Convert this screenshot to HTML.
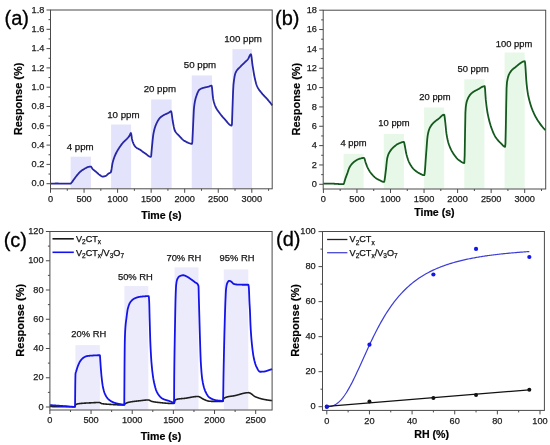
<!DOCTYPE html>
<html><head><meta charset="utf-8"><style>
html,body{margin:0;padding:0;background:#fff;}
body{width:550px;height:445px;overflow:hidden;}
svg{display:block;}
text{font-family:"Liberation Sans",Arial,sans-serif;}
.tk{font-size:9.2px;fill:#1c1c1c;stroke:#1c1c1c;stroke-width:0.25px;}
.bl{font-size:9.4px;fill:#151515;stroke:#151515;stroke-width:0.25px;}
.at{font-size:10.6px;font-weight:bold;fill:#000;stroke:#000;stroke-width:0.2px;}
.ay{font-size:11px;}
.lg{font-size:9.1px;fill:#111;stroke:#111;stroke-width:0.25px;}
.sb{font-size:6.5px;}
.pl{font-size:20px;fill:#000;stroke:#000;stroke-width:0.3px;}
</style></head><body>
<svg width="550" height="445" viewBox="0 0 550 445">
<rect width="550" height="445" fill="#fff"/>
<rect x="70.63" y="156.68" width="20.33" height="31.62" fill="#e3e3fb"/>
<rect x="111.09" y="124.55" width="20" height="63.75" fill="#e3e3fb"/>
<rect x="151.15" y="99.46" width="20.47" height="88.84" fill="#e3e3fb"/>
<rect x="191.75" y="75.43" width="20.26" height="112.87" fill="#e3e3fb"/>
<rect x="232.48" y="49.18" width="19.53" height="139.12" fill="#e3e3fb"/>
<path d="M50.5 183.7 50.87 183.68 51.24 183.66 51.61 183.64 51.98 183.62 52.35 183.61 52.72 183.59 53.09 183.58 53.46 183.57 53.83 183.56 54.2 183.55 54.57 183.54 54.94 183.53 55.31 183.52 55.68 183.52 56.06 183.51 56.43 183.51 56.8 183.51 57.17 183.51 57.54 183.51 57.91 183.51 58.28 183.52 58.65 183.53 59.02 183.54 59.39 183.55 59.76 183.57 60.13 183.58 60.5 183.6 60.87 183.62 61.24 183.63 61.61 183.65 61.98 183.66 62.35 183.67 62.72 183.68 63.09 183.69 63.46 183.7 63.83 183.7 64.2 183.7 64.57 183.7 64.94 183.7 65.31 183.7 65.68 183.7 66.05 183.7 66.42 183.7 66.79 183.7 67.17 183.7 67.54 183.7 67.91 183.7 68.28 183.7 68.65 183.7 69.02 183.7 69.39 183.7 69.76 183.7 70.13 183.7 70.5 183.7 70.87 183.47 71.24 182.98 71.61 182.53 71.98 182.08 72.35 181.61 72.72 181.11 73.09 180.59 73.46 180.06 73.83 179.53 74.2 179 74.57 178.47 74.94 177.95 75.31 177.44 75.68 176.95 76.05 176.49 76.42 176.04 76.79 175.58 77.16 175.13 77.53 174.68 77.91 174.24 78.28 173.8 78.65 173.38 79.02 172.97 79.39 172.57 79.76 172.2 80.13 171.84 80.5 171.51 80.87 171.21 81.24 170.92 81.61 170.64 81.98 170.37 82.35 170.12 82.72 169.87 83.09 169.64 83.46 169.41 83.83 169.19 84.2 168.97 84.57 168.76 84.94 168.55 85.31 168.34 85.68 168.14 86.05 167.92 86.42 167.72 86.79 167.52 87.16 167.34 87.53 167.19 87.9 167.07 88.27 166.97 88.64 166.87 89.02 166.77 89.39 166.69 89.76 166.61 90.13 166.56 90.5 166.53 90.87 166.54 91.24 166.84 91.61 167.39 91.98 168.05 92.35 168.65 92.72 169.09 93.09 169.44 93.46 169.77 93.83 170.07 94.2 170.36 94.57 170.65 94.94 170.93 95.31 171.23 95.68 171.54 96.05 171.86 96.42 172.18 96.79 172.51 97.16 172.84 97.53 173.16 97.9 173.48 98.27 173.79 98.64 174.1 99.01 174.39 99.38 174.66 99.75 174.92 100.13 175.2 100.5 175.49 100.87 175.78 101.24 176.04 101.61 176.27 101.98 176.44 102.35 176.54 102.72 176.56 103.09 176.54 103.46 176.5 103.83 176.44 104.2 176.36 104.57 176.27 104.94 176.17 105.31 176.07 105.68 175.95 106.05 175.76 106.42 175.5 106.79 175.18 107.16 174.82 107.53 174.46 107.9 174.1 108.27 173.77 108.64 173.5 109.01 173.29 109.38 173.12 109.75 172.96 110.12 172.77 110.49 172.51 110.87 172.15 111.24 171.09 111.61 168.97 111.98 166.4 112.35 164.03 112.72 162.37 113.09 161 113.46 159.75 113.83 158.61 114.2 157.55 114.57 156.57 114.94 155.66 115.31 154.8 115.68 154 116.05 153.24 116.42 152.51 116.79 151.83 117.16 151.17 117.53 150.53 117.9 149.91 118.27 149.31 118.64 148.71 119.01 148.13 119.38 147.56 119.75 147 120.12 146.46 120.49 145.93 120.86 145.41 121.23 144.9 121.6 144.41 121.98 143.94 122.35 143.47 122.72 143.03 123.09 142.59 123.46 142.17 123.83 141.78 124.2 141.42 124.57 141.06 124.94 140.72 125.31 140.38 125.68 140.04 126.05 139.7 126.42 139.34 126.79 138.97 127.16 138.58 127.53 138.17 127.9 137.76 128.27 137.33 128.64 136.89 129.01 136.41 129.38 135.9 129.75 135.32 130.12 134.43 130.49 133.5 130.86 133.04 131.23 133.97 131.6 136.3 131.97 138.89 132.34 140.62 132.72 141.71 133.09 142.7 133.46 143.59 133.83 144.38 134.2 145.08 134.57 145.69 134.94 146.21 135.31 146.64 135.68 147 136.05 147.33 136.42 147.63 136.79 147.9 137.16 148.14 137.53 148.37 137.9 148.58 138.27 148.78 138.64 148.98 139.01 149.18 139.38 149.38 139.75 149.6 140.12 149.83 140.49 150.08 140.86 150.34 141.23 150.6 141.6 150.87 141.97 151.14 142.34 151.42 142.71 151.7 143.08 151.97 143.45 152.25 143.83 152.52 144.2 152.79 144.57 153.05 144.94 153.3 145.31 153.55 145.68 153.8 146.05 154.06 146.42 154.33 146.79 154.61 147.16 154.9 147.53 155.19 147.9 155.48 148.27 155.75 148.64 156 149.01 156.23 149.38 156.44 149.75 156.61 150.12 156.74 150.49 156.83 150.86 156.87 151.23 155.41 151.6 150.95 151.97 146.81 152.34 143.13 152.71 139.45 153.08 136.17 153.45 133.66 153.82 131.86 154.19 130.27 154.57 128.84 154.94 127.57 155.31 126.43 155.68 125.41 156.05 124.49 156.42 123.65 156.79 122.87 157.16 122.13 157.53 121.44 157.9 120.78 158.27 120.16 158.64 119.58 159.01 119.05 159.38 118.55 159.75 118.1 160.12 117.69 160.49 117.32 160.86 116.99 161.23 116.69 161.6 116.41 161.97 116.16 162.34 115.92 162.71 115.69 163.08 115.48 163.45 115.27 163.82 115.07 164.19 114.88 164.56 114.68 164.93 114.49 165.3 114.3 165.68 114.13 166.05 113.97 166.42 113.81 166.79 113.65 167.16 113.49 167.53 113.33 167.9 113.16 168.27 112.98 168.64 112.79 169.01 112.55 169.38 112.25 169.75 111.94 170.12 111.64 170.49 111.4 170.86 111.25 171.23 111.39 171.6 112.96 171.97 115.57 172.34 118.51 172.71 121.02 173.08 123 173.45 125.01 173.82 126.93 174.19 128.61 174.56 129.92 174.93 130.77 175.3 131.45 175.67 132.04 176.04 132.56 176.41 133.02 176.79 133.44 177.16 133.82 177.53 134.18 177.9 134.54 178.27 134.9 178.64 135.28 179.01 135.69 179.38 136.1 179.75 136.51 180.12 136.92 180.49 137.33 180.86 137.73 181.23 138.12 181.6 138.5 181.97 138.87 182.34 139.22 182.71 139.55 183.08 139.87 183.45 140.16 183.82 140.42 184.19 140.66 184.56 140.9 184.93 141.13 185.3 141.35 185.67 141.56 186.04 141.77 186.41 141.97 186.78 142.16 187.15 142.34 187.53 142.52 187.9 142.68 188.27 142.84 188.64 142.99 189.01 143.13 189.38 143.26 189.75 143.38 190.12 143.49 190.49 143.61 190.86 143.73 191.23 143.83 191.6 143.9 191.97 143.94 192.34 141.89 192.71 134.31 193.08 125.94 193.45 117.87 193.82 110.14 194.19 106.12 194.56 103.51 194.93 101.4 195.3 99.69 195.67 98.28 196.04 97.07 196.41 95.96 196.78 94.9 197.15 93.89 197.52 92.95 197.89 92.09 198.26 91.32 198.64 90.66 199.01 90.11 199.38 89.7 199.75 89.41 200.12 89.18 200.49 88.97 200.86 88.78 201.23 88.61 201.6 88.46 201.97 88.33 202.34 88.2 202.71 88.09 203.08 87.98 203.45 87.87 203.82 87.76 204.19 87.65 204.56 87.55 204.93 87.45 205.3 87.37 205.67 87.28 206.04 87.2 206.41 87.12 206.78 87.04 207.15 86.97 207.52 86.88 207.89 86.8 208.26 86.71 208.63 86.61 209 86.49 209.38 86.34 209.75 86.18 210.12 86.03 210.49 85.88 210.86 85.77 211.23 85.69 211.6 85.66 211.97 87.24 212.34 91.05 212.71 95.37 213.08 98.47 213.45 100.22 213.82 101.76 214.19 103.09 214.56 104.26 214.93 105.29 215.3 106.2 215.67 107.02 216.04 107.77 216.41 108.46 216.78 109.09 217.15 109.67 217.52 110.22 217.89 110.75 218.26 111.27 218.63 111.78 219 112.31 219.37 112.82 219.74 113.32 220.11 113.81 220.49 114.29 220.86 114.76 221.23 115.22 221.6 115.67 221.97 116.11 222.34 116.55 222.71 116.97 223.08 117.39 223.45 117.8 223.82 118.21 224.19 118.6 224.56 119 224.93 119.4 225.3 119.83 225.67 120.27 226.04 120.72 226.41 121.17 226.78 121.63 227.15 122.08 227.52 122.52 227.89 122.95 228.26 123.36 228.63 123.75 229 124.12 229.37 124.46 229.74 124.76 230.11 125.02 230.48 125.24 230.85 125.41 231.23 125.53 231.6 125.6 231.97 123.96 232.34 112.83 232.71 102.07 233.08 91.63 233.45 84.94 233.82 81.56 234.19 78.79 234.56 76.56 234.93 74.82 235.3 73.5 235.67 72.54 236.04 71.78 236.41 71.11 236.78 70.52 237.15 70 237.52 69.55 237.89 69.13 238.26 68.76 238.63 68.4 239 68.05 239.37 67.7 239.74 67.34 240.11 66.95 240.48 66.54 240.85 66.15 241.22 65.77 241.59 65.41 241.96 65.04 242.34 64.69 242.71 64.34 243.08 63.99 243.45 63.63 243.82 63.28 244.19 62.92 244.56 62.56 244.93 62.2 245.3 61.85 245.67 61.5 246.04 61.16 246.41 60.81 246.78 60.45 247.15 60.07 247.52 59.66 247.89 59.22 248.26 58.7 248.63 58 249 57.2 249.37 56.37 249.74 55.58 250.11 54.91 250.48 54.43 250.85 54.2 251.22 54.93 251.59 57.39 251.96 60.69 252.33 63.86 252.7 66.29 253.08 68.63 253.45 70.93 253.82 73.14 254.19 75.22 254.56 77.11 254.93 78.79 255.3 80.36 255.67 81.85 256.04 83.23 256.41 84.46 256.78 85.52 257.15 86.39 257.52 87.15 257.89 87.85 258.26 88.49 258.63 89.09 259 89.64 259.37 90.17 259.74 90.66 260.11 91.13 260.48 91.59 260.85 92.05 261.22 92.51 261.59 92.97 261.96 93.43 262.33 93.87 262.7 94.3 263.07 94.71 263.44 95.11 263.81 95.5 264.19 95.88 264.56 96.27 264.93 96.65 265.3 97.03 265.67 97.41 266.04 97.8 266.41 98.2 266.78 98.61 267.15 99.03 267.52 99.46 267.89 99.89 268.26 100.33 268.63 100.77 269 101.21 269.37 101.66 269.74 102.1 270.11 102.56 270.48 103.01 270.85 103.47 271.22 103.94 271.59 104.4 271.96 104.87 272.33 105.34" fill="none" stroke="#2626a6" stroke-width="1.8" stroke-linejoin="round"/>
<rect x="50.5" y="10" width="221.7" height="178.8" fill="none" stroke="#4a4a4a" stroke-width="1"/>
<path d="M50.5 188.8v4M84.05 188.8v4M117.6 188.8v4M151.15 188.8v4M184.7 188.8v4M218.25 188.8v4M251.8 188.8v4M67.28 188.8v2M100.83 188.8v2M134.38 188.8v2M167.93 188.8v2M201.48 188.8v2M235.03 188.8v2M268.58 188.8v2M50.5 183.7h-4M50.5 164.4h-4M50.5 145.1h-4M50.5 125.8h-4M50.5 106.5h-4M50.5 87.2h-4M50.5 67.9h-4M50.5 48.6h-4M50.5 29.3h-4M50.5 10h-4M50.5 174.05h-2M50.5 154.75h-2M50.5 135.45h-2M50.5 116.15h-2M50.5 96.85h-2M50.5 77.55h-2M50.5 58.25h-2M50.5 38.95h-2M50.5 19.65h-2" stroke="#4a4a4a" stroke-width="1" fill="none"/>
<text x="50.5" y="202.2" text-anchor="middle" class="tk">0</text>
<text x="84.05" y="202.2" text-anchor="middle" class="tk">500</text>
<text x="117.6" y="202.2" text-anchor="middle" class="tk">1000</text>
<text x="151.15" y="202.2" text-anchor="middle" class="tk">1500</text>
<text x="184.7" y="202.2" text-anchor="middle" class="tk">2000</text>
<text x="218.25" y="202.2" text-anchor="middle" class="tk">2500</text>
<text x="251.8" y="202.2" text-anchor="middle" class="tk">3000</text>
<text x="44.3" y="186.4" text-anchor="end" class="tk">0.0</text>
<text x="44.3" y="167.1" text-anchor="end" class="tk">0.2</text>
<text x="44.3" y="147.8" text-anchor="end" class="tk">0.4</text>
<text x="44.3" y="128.5" text-anchor="end" class="tk">0.6</text>
<text x="44.3" y="109.2" text-anchor="end" class="tk">0.8</text>
<text x="44.3" y="89.9" text-anchor="end" class="tk">1.0</text>
<text x="44.3" y="70.6" text-anchor="end" class="tk">1.2</text>
<text x="44.3" y="51.3" text-anchor="end" class="tk">1.4</text>
<text x="44.3" y="32" text-anchor="end" class="tk">1.6</text>
<text x="44.3" y="12.7" text-anchor="end" class="tk">1.8</text>
<text x="161.35" y="218.5" text-anchor="middle" class="at">Time (s)</text>
<text transform="translate(22.4 98.9) rotate(-90)" x="0" y="0" text-anchor="middle" class="at ay">Response (%)</text>
<text x="80.2" y="149.5" text-anchor="middle" class="bl" style="font-size:9.7px">4 ppm</text>
<text x="123.4" y="118.2" text-anchor="middle" class="bl" style="font-size:9.7px">10 ppm</text>
<text x="159.8" y="91.7" text-anchor="middle" class="bl" style="font-size:9.7px">20 ppm</text>
<text x="200" y="68.4" text-anchor="middle" class="bl" style="font-size:9.7px">50 ppm</text>
<text x="243" y="41.8" text-anchor="middle" class="bl" style="font-size:9.7px">100 ppm</text>
<rect x="343.53" y="153.83" width="20.13" height="34.67" fill="#e8f8e8"/>
<rect x="383.79" y="134.01" width="20.13" height="54.49" fill="#e8f8e8"/>
<rect x="424.05" y="107.5" width="20.13" height="81" fill="#e8f8e8"/>
<rect x="464.31" y="79.17" width="20.13" height="109.33" fill="#e8f8e8"/>
<rect x="504.57" y="52.47" width="20.13" height="136.03" fill="#e8f8e8"/>
<path d="M323.4 183.82 323.77 183.74 324.14 183.67 324.51 183.61 324.88 183.56 325.25 183.53 325.62 183.53 326 183.53 326.37 183.53 326.74 183.53 327.11 183.53 327.48 183.53 327.85 183.53 328.22 183.53 328.59 183.53 328.96 183.53 329.33 183.53 329.7 183.53 330.07 183.53 330.44 183.53 330.82 183.53 331.19 183.55 331.56 183.56 331.93 183.58 332.3 183.6 332.67 183.62 333.04 183.65 333.41 183.67 333.78 183.7 334.15 183.73 334.52 183.76 334.89 183.79 335.27 183.81 335.64 183.84 336.01 183.87 336.38 183.89 336.75 183.91 337.12 183.93 337.49 183.95 337.86 183.97 338.23 183.99 338.6 184.01 338.97 184.03 339.34 184.06 339.71 184.08 340.09 184.1 340.46 184.12 340.83 184.14 341.2 184.15 341.57 184.17 341.94 184.18 342.31 184.19 342.68 184.2 343.05 184.2 343.42 184.2 343.79 183.8 344.16 182.84 344.53 181.56 344.91 180.17 345.28 178.89 345.65 177.84 346.02 176.84 346.39 175.85 346.76 174.87 347.13 173.87 347.5 172.86 347.87 171.77 348.24 170.64 348.61 169.53 348.98 168.52 349.36 167.69 349.73 167 350.1 166.37 350.47 165.79 350.84 165.25 351.21 164.76 351.58 164.3 351.95 163.88 352.32 163.48 352.69 163.1 353.06 162.74 353.43 162.39 353.8 162.06 354.18 161.74 354.55 161.44 354.92 161.16 355.29 160.89 355.66 160.65 356.03 160.42 356.4 160.21 356.77 160 357.14 159.81 357.51 159.62 357.88 159.44 358.25 159.27 358.62 159.11 359 158.97 359.37 158.83 359.74 158.71 360.11 158.61 360.48 158.51 360.85 158.42 361.22 158.32 361.59 158.23 361.96 158.15 362.33 158.07 362.7 158.01 363.07 157.95 363.44 157.92 363.82 157.9 364.19 158.02 364.56 158.82 364.93 160.09 365.3 161.46 365.67 162.61 366.04 163.64 366.41 164.67 366.78 165.68 367.15 166.62 367.52 167.47 367.89 168.21 368.27 168.92 368.64 169.58 369.01 170.22 369.38 170.82 369.75 171.39 370.12 171.93 370.49 172.44 370.86 172.94 371.23 173.41 371.6 173.86 371.97 174.31 372.34 174.74 372.71 175.16 373.09 175.57 373.46 175.95 373.83 176.33 374.2 176.68 374.57 177.02 374.94 177.34 375.31 177.64 375.68 177.92 376.05 178.19 376.42 178.44 376.79 178.69 377.16 178.92 377.53 179.14 377.91 179.36 378.28 179.56 378.65 179.76 379.02 179.95 379.39 180.13 379.76 180.31 380.13 180.49 380.5 180.65 380.87 180.83 381.24 181.02 381.61 181.21 381.98 181.39 382.36 181.57 382.73 181.72 383.1 181.84 383.47 181.93 383.84 181.97 384.21 181.7 384.58 180.13 384.95 177.61 385.32 174.6 385.69 171.59 386.06 168.59 386.43 164.9 386.8 161.26 387.18 158.5 387.55 156.95 387.92 155.7 388.29 154.65 388.66 153.77 389.03 153.02 389.4 152.35 389.77 151.73 390.14 151.15 390.51 150.61 390.88 150.1 391.25 149.62 391.62 149.17 392 148.74 392.37 148.34 392.74 147.96 393.11 147.6 393.48 147.26 393.85 146.92 394.22 146.6 394.59 146.29 394.96 145.99 395.33 145.69 395.7 145.4 396.07 145.12 396.44 144.86 396.82 144.6 397.19 144.36 397.56 144.13 397.93 143.92 398.3 143.72 398.67 143.54 399.04 143.38 399.41 143.22 399.78 143.07 400.15 142.91 400.52 142.76 400.89 142.61 401.27 142.47 401.64 142.34 402.01 142.23 402.38 142.13 402.75 142.05 403.12 141.99 403.49 141.95 403.86 141.94 404.23 142.78 404.6 144.61 404.97 146.51 405.34 148.54 405.71 150.77 406.09 152.82 406.46 154.38 406.83 155.76 407.2 157.05 407.57 158.23 407.94 159.33 408.31 160.33 408.68 161.25 409.05 162.09 409.42 162.85 409.79 163.57 410.16 164.26 410.53 164.91 410.91 165.52 411.28 166.11 411.65 166.66 412.02 167.17 412.39 167.66 412.76 168.12 413.13 168.54 413.5 168.94 413.87 169.31 414.24 169.66 414.61 170 414.98 170.33 415.36 170.65 415.73 170.95 416.1 171.24 416.47 171.52 416.84 171.79 417.21 172.04 417.58 172.28 417.95 172.52 418.32 172.74 418.69 172.95 419.06 173.15 419.43 173.34 419.8 173.53 420.18 173.73 420.55 173.92 420.92 174.12 421.29 174.31 421.66 174.49 422.03 174.66 422.4 174.81 422.77 174.95 423.14 175.05 423.51 175.14 423.88 175.19 424.25 175.21 424.62 173.72 425 169.93 425.37 164.78 425.74 159.22 426.11 154.19 426.48 149.39 426.85 144.15 427.22 139.39 427.59 136.04 427.96 133.96 428.33 132.23 428.7 130.81 429.07 129.66 429.44 128.72 429.82 127.91 430.19 127.18 430.56 126.53 430.93 125.93 431.3 125.39 431.67 124.89 432.04 124.43 432.41 123.99 432.78 123.58 433.15 123.18 433.52 122.8 433.89 122.44 434.27 122.1 434.64 121.78 435.01 121.47 435.38 121.17 435.75 120.89 436.12 120.61 436.49 120.34 436.86 120.07 437.23 119.8 437.6 119.53 437.97 119.25 438.34 118.97 438.71 118.67 439.09 118.35 439.46 118 439.83 117.65 440.2 117.28 440.57 116.92 440.94 116.56 441.31 116.22 441.68 115.89 442.05 115.59 442.42 115.32 442.79 115.08 443.16 114.9 443.53 114.76 443.91 114.68 444.28 114.78 444.65 116.85 445.02 120.18 445.39 123.38 445.76 127.14 446.13 130.92 446.5 133.93 446.87 136.09 447.24 138.02 447.61 139.74 447.98 141.29 448.35 142.66 448.73 143.89 449.1 144.99 449.47 145.99 449.84 146.94 450.21 147.82 450.58 148.65 450.95 149.44 451.32 150.17 451.69 150.87 452.06 151.53 452.43 152.16 452.8 152.76 453.18 153.33 453.55 153.89 453.92 154.43 454.29 154.96 454.66 155.48 455.03 155.99 455.4 156.48 455.77 156.95 456.14 157.41 456.51 157.85 456.88 158.27 457.25 158.66 457.62 159.04 458 159.39 458.37 159.71 458.74 160.01 459.11 160.29 459.48 160.56 459.85 160.83 460.22 161.1 460.59 161.37 460.96 161.63 461.33 161.88 461.7 162.11 462.07 162.32 462.44 162.51 462.82 162.68 463.19 162.82 463.56 162.92 463.93 162.99 464.3 163.02 464.67 155.55 465.04 133.54 465.41 113.12 465.78 107.1 466.15 104.44 466.52 102.5 466.89 101.08 467.27 100 467.64 99.09 468.01 98.26 468.38 97.51 468.75 96.82 469.12 96.2 469.49 95.64 469.86 95.13 470.23 94.67 470.6 94.24 470.97 93.85 471.34 93.49 471.71 93.15 472.09 92.83 472.46 92.53 472.83 92.25 473.2 91.99 473.57 91.74 473.94 91.51 474.31 91.29 474.68 91.08 475.05 90.88 475.42 90.69 475.79 90.5 476.16 90.31 476.53 90.12 476.91 89.93 477.28 89.74 477.65 89.55 478.02 89.34 478.39 89.12 478.76 88.9 479.13 88.67 479.5 88.43 479.87 88.2 480.24 87.97 480.61 87.74 480.98 87.52 481.35 87.31 481.73 87.11 482.1 86.92 482.47 86.75 482.84 86.6 483.21 86.48 483.58 86.37 483.95 86.29 484.32 86.24 484.69 86.23 485.06 88.9 485.43 94.82 485.8 99.88 486.18 103.26 486.55 106.32 486.92 109.06 487.29 111.47 487.66 113.55 488.03 115.43 488.4 117.17 488.77 118.8 489.14 120.31 489.51 121.72 489.88 123.05 490.25 124.29 490.62 125.47 491 126.59 491.37 127.68 491.74 128.72 492.11 129.73 492.48 130.71 492.85 131.64 493.22 132.54 493.59 133.39 493.96 134.19 494.33 134.95 494.7 135.66 495.07 136.31 495.44 136.92 495.82 137.48 496.19 138.02 496.56 138.54 496.93 139.03 497.3 139.5 497.67 139.95 498.04 140.38 498.41 140.8 498.78 141.2 499.15 141.59 499.52 141.97 499.89 142.34 500.27 142.7 500.64 143.06 501.01 143.41 501.38 143.78 501.75 144.16 502.12 144.57 502.49 144.97 502.86 145.37 503.23 145.74 503.6 146.08 503.97 146.37 504.34 146.61 504.71 146.78 505.09 146.86 505.46 143.71 505.83 127.44 506.2 105.73 506.57 88.19 506.94 82.66 507.31 80.45 507.68 78.62 508.05 77.12 508.42 75.9 508.79 74.9 509.16 74.08 509.53 73.38 509.91 72.76 510.28 72.17 510.65 71.63 511.02 71.12 511.39 70.66 511.76 70.24 512.13 69.85 512.5 69.48 512.87 69.14 513.24 68.82 513.61 68.52 513.98 68.23 514.35 67.95 514.73 67.67 515.1 67.4 515.47 67.12 515.84 66.83 516.21 66.54 516.58 66.24 516.95 65.93 517.32 65.62 517.69 65.3 518.06 64.99 518.43 64.68 518.8 64.37 519.18 64.06 519.55 63.76 519.92 63.47 520.29 63.19 520.66 62.92 521.03 62.67 521.4 62.43 521.77 62.21 522.14 62.01 522.51 61.82 522.88 61.67 523.25 61.53 523.62 61.42 524 61.34 524.37 61.29 524.74 61.27 525.11 62.88 525.48 67.4 525.85 73.37 526.22 79.33 526.59 83.82 526.96 87.05 527.33 90 527.7 92.59 528.07 94.75 528.44 96.51 528.82 98.14 529.19 99.68 529.56 101.13 529.93 102.49 530.3 103.77 530.67 104.98 531.04 106.13 531.41 107.21 531.78 108.23 532.15 109.21 532.52 110.14 532.89 111.04 533.27 111.9 533.64 112.74 534.01 113.56 534.38 114.35 534.75 115.11 535.12 115.85 535.49 116.56 535.86 117.24 536.23 117.91 536.6 118.55 536.97 119.17 537.34 119.78 537.71 120.36 538.09 120.93 538.46 121.49 538.83 122.04 539.2 122.57 539.57 123.09 539.94 123.61 540.31 124.12 540.68 124.62 541.05 125.11 541.42 125.6 541.79 126.07 542.16 126.53 542.53 126.98 542.91 127.42 543.28 127.84 543.65 128.26 544.02 128.66 544.39 129.05 544.76 129.42 545.13 129.79 545.5 130.14" fill="none" stroke="#145a1e" stroke-width="1.8" stroke-linejoin="round"/>
<rect x="323.2" y="10.2" width="222.5" height="178.8" fill="none" stroke="#4a4a4a" stroke-width="1"/>
<path d="M323.4 189v4M356.95 189v4M390.5 189v4M424.05 189v4M457.6 189v4M491.15 189v4M524.7 189v4M340.17 189v2M373.72 189v2M407.27 189v2M440.82 189v2M474.38 189v2M507.92 189v2M541.48 189v2M323.2 184.3h-4M323.2 164.96h-4M323.2 145.61h-4M323.2 126.27h-4M323.2 106.92h-4M323.2 87.58h-4M323.2 68.24h-4M323.2 48.89h-4M323.2 29.55h-4M323.2 10.2h-4M323.2 174.63h-2M323.2 155.28h-2M323.2 135.94h-2M323.2 116.6h-2M323.2 97.25h-2M323.2 77.91h-2M323.2 58.56h-2M323.2 39.22h-2M323.2 19.88h-2" stroke="#4a4a4a" stroke-width="1" fill="none"/>
<text x="323.4" y="202.4" text-anchor="middle" class="tk">0</text>
<text x="356.95" y="202.4" text-anchor="middle" class="tk">500</text>
<text x="390.5" y="202.4" text-anchor="middle" class="tk">1000</text>
<text x="424.05" y="202.4" text-anchor="middle" class="tk">1500</text>
<text x="457.6" y="202.4" text-anchor="middle" class="tk">2000</text>
<text x="491.15" y="202.4" text-anchor="middle" class="tk">2500</text>
<text x="524.7" y="202.4" text-anchor="middle" class="tk">3000</text>
<text x="316.9" y="187" text-anchor="end" class="tk">0</text>
<text x="316.9" y="167.66" text-anchor="end" class="tk">2</text>
<text x="316.9" y="148.31" text-anchor="end" class="tk">4</text>
<text x="316.9" y="128.97" text-anchor="end" class="tk">6</text>
<text x="316.9" y="109.62" text-anchor="end" class="tk">8</text>
<text x="316.9" y="90.28" text-anchor="end" class="tk">10</text>
<text x="316.9" y="70.94" text-anchor="end" class="tk">12</text>
<text x="316.9" y="51.59" text-anchor="end" class="tk">14</text>
<text x="316.9" y="32.25" text-anchor="end" class="tk">16</text>
<text x="316.9" y="12.9" text-anchor="end" class="tk">18</text>
<text x="434.45" y="215.6" text-anchor="middle" class="at">Time (s)</text>
<text transform="translate(300 99.1) rotate(-90)" x="0" y="0" text-anchor="middle" class="at ay">Response (%)</text>
<text x="353.5" y="146" text-anchor="middle" class="bl">4 ppm</text>
<text x="394" y="125.8" text-anchor="middle" class="bl">10 ppm</text>
<text x="435" y="99.6" text-anchor="middle" class="bl">20 ppm</text>
<text x="473.1" y="72" text-anchor="middle" class="bl">50 ppm</text>
<text x="514.1" y="46.9" text-anchor="middle" class="bl">100 ppm</text>
<rect x="75.42" y="345.14" width="24.45" height="64.36" fill="#ecebfc"/>
<rect x="124.4" y="286.05" width="23.96" height="123.45" fill="#ecebfc"/>
<rect x="174.61" y="267.33" width="23.87" height="142.17" fill="#ecebfc"/>
<rect x="223.76" y="269.38" width="24.53" height="140.12" fill="#ecebfc"/>
<path d="M49.9 406.56 50.18 406.56 50.46 406.56 50.73 406.57 51.01 406.57 51.29 406.57 51.57 406.57 51.85 406.57 52.13 406.57 52.4 406.58 52.68 406.58 52.96 406.58 53.24 406.58 53.52 406.58 53.79 406.58 54.07 406.59 54.35 406.59 54.63 406.59 54.91 406.59 55.19 406.59 55.46 406.59 55.74 406.6 56.02 406.6 56.3 406.6 56.58 406.6 56.85 406.6 57.13 406.6 57.41 406.61 57.69 406.61 57.97 406.61 58.25 406.61 58.52 406.61 58.8 406.61 59.08 406.62 59.36 406.62 59.64 406.62 59.91 406.62 60.19 406.62 60.47 406.62 60.75 406.63 61.03 406.63 61.31 406.63 61.58 406.63 61.86 406.63 62.14 406.63 62.42 406.64 62.7 406.64 62.97 406.64 63.25 406.64 63.53 406.64 63.81 406.64 64.09 406.65 64.37 406.65 64.64 406.65 64.92 406.65 65.2 406.66 65.48 406.66 65.76 406.66 66.03 406.66 66.31 406.66 66.59 406.67 66.87 406.67 67.15 406.67 67.43 406.67 67.7 406.67 67.98 406.68 68.26 406.68 68.54 406.68 68.82 406.68 69.09 406.68 69.37 406.69 69.65 406.69 69.93 406.69 70.21 406.69 70.49 406.69 70.76 406.7 71.04 406.7 71.32 406.7 71.6 406.7 71.88 406.7 72.15 406.7 72.43 406.7 72.71 406.7 72.99 406.71 73.27 406.71 73.55 406.71 73.82 406.71 74.1 406.71 74.38 406.71 74.66 406.7 74.94 406.38 75.21 405.8 75.49 405.13 75.77 404.59 76.05 404.35 76.33 404.25 76.61 404.16 76.88 404.08 77.16 404 77.44 403.93 77.72 403.87 78 403.81 78.27 403.76 78.55 403.71 78.83 403.67 79.11 403.63 79.39 403.59 79.67 403.56 79.94 403.53 80.22 403.5 80.5 403.47 80.78 403.45 81.06 403.42 81.33 403.4 81.61 403.38 81.89 403.35 82.17 403.33 82.45 403.31 82.72 403.28 83 403.26 83.28 403.24 83.56 403.22 83.84 403.2 84.12 403.18 84.39 403.16 84.67 403.15 84.95 403.13 85.23 403.11 85.51 403.1 85.78 403.08 86.06 403.07 86.34 403.05 86.62 403.04 86.9 403.03 87.18 403.01 87.45 403 87.73 402.99 88.01 402.97 88.29 402.96 88.57 402.95 88.84 402.94 89.12 402.92 89.4 402.91 89.68 402.9 89.96 402.88 90.24 402.87 90.51 402.86 90.79 402.85 91.07 402.83 91.35 402.82 91.63 402.8 91.9 402.79 92.18 402.77 92.46 402.76 92.74 402.74 93.02 402.72 93.3 402.71 93.57 402.69 93.85 402.67 94.13 402.66 94.41 402.64 94.69 402.63 94.96 402.61 95.24 402.59 95.52 402.58 95.8 402.57 96.08 402.55 96.36 402.54 96.63 402.53 96.91 402.52 97.19 402.51 97.47 402.5 97.75 402.49 98.02 402.48 98.3 402.48 98.58 402.47 98.86 402.47 99.14 402.47 99.42 402.47 99.69 402.53 99.97 402.64 100.25 402.78 100.53 402.95 100.81 403.12 101.08 403.29 101.36 403.44 101.64 403.56 101.92 403.64 102.2 403.68 102.48 403.72 102.75 403.77 103.03 403.8 103.31 403.84 103.59 403.88 103.87 403.91 104.14 403.94 104.42 403.97 104.7 404 104.98 404.02 105.26 404.05 105.54 404.07 105.81 404.1 106.09 404.12 106.37 404.14 106.65 404.16 106.93 404.18 107.2 404.2 107.48 404.21 107.76 404.23 108.04 404.25 108.32 404.26 108.6 404.28 108.87 404.3 109.15 404.31 109.43 404.33 109.71 404.35 109.99 404.37 110.26 404.39 110.54 404.4 110.82 404.42 111.1 404.44 111.38 404.46 111.66 404.48 111.93 404.5 112.21 404.52 112.49 404.53 112.77 404.55 113.05 404.57 113.32 404.59 113.6 404.61 113.88 404.63 114.16 404.64 114.44 404.66 114.72 404.68 114.99 404.7 115.27 404.71 115.55 404.73 115.83 404.75 116.11 404.76 116.38 404.78 116.66 404.79 116.94 404.81 117.22 404.82 117.5 404.84 117.78 404.85 118.05 404.86 118.33 404.87 118.61 404.88 118.89 404.89 119.17 404.9 119.44 404.91 119.72 404.92 120 404.93 120.28 404.93 120.56 404.94 120.84 404.94 121.11 404.95 121.39 404.95 121.67 404.95 121.95 404.95 122.23 404.95 122.5 404.95 122.78 404.95 123.06 404.95 123.34 404.95 123.62 404.95 123.9 404.95 124.17 404.95 124.45 404.81 124.73 404.37 125.01 403.88 125.29 403.6 125.56 403.44 125.84 403.29 126.12 403.15 126.4 403.02 126.68 402.91 126.96 402.8 127.23 402.7 127.51 402.61 127.79 402.53 128.07 402.45 128.35 402.38 128.62 402.31 128.9 402.25 129.18 402.19 129.46 402.14 129.74 402.08 130.02 402.02 130.29 401.97 130.57 401.92 130.85 401.87 131.13 401.82 131.41 401.77 131.68 401.72 131.96 401.68 132.24 401.64 132.52 401.6 132.8 401.56 133.08 401.52 133.35 401.48 133.63 401.44 133.91 401.41 134.19 401.37 134.47 401.34 134.74 401.3 135.02 401.27 135.3 401.24 135.58 401.21 135.86 401.18 136.14 401.14 136.41 401.11 136.69 401.08 136.97 401.05 137.25 401.02 137.53 401 137.8 400.97 138.08 400.94 138.36 400.91 138.64 400.88 138.92 400.85 139.2 400.81 139.47 400.78 139.75 400.75 140.03 400.72 140.31 400.68 140.59 400.65 140.86 400.61 141.14 400.58 141.42 400.54 141.7 400.51 141.98 400.47 142.26 400.44 142.53 400.41 142.81 400.37 143.09 400.34 143.37 400.31 143.65 400.28 143.92 400.25 144.2 400.22 144.48 400.19 144.76 400.16 145.04 400.14 145.31 400.11 145.59 400.09 145.87 400.07 146.15 400.05 146.43 400.04 146.71 400.02 146.98 400.01 147.26 400 147.54 399.99 147.82 399.98 148.1 399.98 148.37 399.98 148.65 400.02 148.93 400.08 149.21 400.17 149.49 400.29 149.77 400.42 150.04 400.56 150.32 400.71 150.6 400.86 150.88 401.01 151.16 401.15 151.43 401.27 151.71 401.37 151.99 401.45 152.27 401.51 152.55 401.57 152.83 401.62 153.1 401.68 153.38 401.73 153.66 401.79 153.94 401.84 154.22 401.89 154.49 401.93 154.77 401.98 155.05 402.02 155.33 402.06 155.61 402.1 155.89 402.14 156.16 402.18 156.44 402.22 156.72 402.25 157 402.29 157.28 402.32 157.55 402.36 157.83 402.39 158.11 402.42 158.39 402.45 158.67 402.48 158.95 402.51 159.22 402.54 159.5 402.57 159.78 402.59 160.06 402.62 160.34 402.65 160.61 402.68 160.89 402.71 161.17 402.73 161.45 402.76 161.73 402.79 162.01 402.82 162.28 402.85 162.56 402.87 162.84 402.9 163.12 402.93 163.4 402.96 163.67 402.98 163.95 403.01 164.23 403.04 164.51 403.06 164.79 403.09 165.07 403.11 165.34 403.14 165.62 403.16 165.9 403.19 166.18 403.21 166.46 403.23 166.73 403.25 167.01 403.27 167.29 403.29 167.57 403.31 167.85 403.33 168.13 403.35 168.4 403.37 168.68 403.38 168.96 403.4 169.24 403.41 169.52 403.43 169.79 403.44 170.07 403.45 170.35 403.46 170.63 403.47 170.91 403.47 171.19 403.48 171.46 403.48 171.74 403.49 172.02 403.49 172.3 403.49 172.58 403.49 172.85 403.48 173.13 403.46 173.41 403.44 173.69 403.41 173.97 403.38 174.25 403.32 174.52 402.59 174.8 401.32 175.08 400.18 175.36 399.8 175.64 399.7 175.91 399.6 176.19 399.51 176.47 399.43 176.75 399.35 177.03 399.28 177.31 399.21 177.58 399.14 177.86 399.09 178.14 399.03 178.42 398.98 178.7 398.94 178.97 398.89 179.25 398.86 179.53 398.82 179.81 398.79 180.09 398.76 180.37 398.73 180.64 398.7 180.92 398.68 181.2 398.65 181.48 398.63 181.76 398.61 182.03 398.59 182.31 398.57 182.59 398.54 182.87 398.52 183.15 398.5 183.43 398.48 183.7 398.46 183.98 398.43 184.26 398.4 184.54 398.38 184.82 398.34 185.09 398.31 185.37 398.28 185.65 398.24 185.93 398.19 186.21 398.15 186.49 398.11 186.76 398.06 187.04 398.01 187.32 397.96 187.6 397.91 187.88 397.86 188.15 397.81 188.43 397.76 188.71 397.71 188.99 397.65 189.27 397.6 189.55 397.55 189.82 397.49 190.1 397.44 190.38 397.39 190.66 397.34 190.94 397.28 191.21 397.23 191.49 397.18 191.77 397.13 192.05 397.08 192.33 397.03 192.61 396.98 192.88 396.94 193.16 396.89 193.44 396.85 193.72 396.81 194 396.77 194.27 396.73 194.55 396.7 194.83 396.66 195.11 396.63 195.39 396.6 195.67 396.58 195.94 396.55 196.22 396.53 196.5 396.51 196.78 396.5 197.06 396.49 197.33 396.48 197.61 396.47 197.89 396.47 198.17 396.48 198.45 396.52 198.73 396.58 199 396.67 199.28 396.77 199.56 396.89 199.84 397.03 200.12 397.18 200.39 397.34 200.67 397.51 200.95 397.68 201.23 397.86 201.51 398.05 201.79 398.23 202.06 398.41 202.34 398.59 202.62 398.76 202.9 398.93 203.18 399.08 203.45 399.22 203.73 399.35 204.01 399.47 204.29 399.58 204.57 399.7 204.84 399.82 205.12 399.94 205.4 400.06 205.68 400.18 205.96 400.3 206.24 400.41 206.51 400.52 206.79 400.62 207.07 400.72 207.35 400.81 207.63 400.9 207.9 400.97 208.18 401.03 208.46 401.09 208.74 401.13 209.02 401.16 209.3 401.18 209.57 401.21 209.85 401.23 210.13 401.25 210.41 401.27 210.69 401.29 210.96 401.31 211.24 401.33 211.52 401.35 211.8 401.36 212.08 401.38 212.36 401.39 212.63 401.4 212.91 401.41 213.19 401.42 213.47 401.43 213.75 401.44 214.02 401.44 214.3 401.44 214.58 401.44 214.86 401.44 215.14 401.44 215.42 401.44 215.69 401.44 215.97 401.44 216.25 401.44 216.53 401.44 216.81 401.44 217.08 401.44 217.36 401.44 217.64 401.44 217.92 401.44 218.2 401.44 218.48 401.44 218.75 401.44 219.03 401.44 219.31 401.44 219.59 401.44 219.87 401.44 220.14 401.44 220.42 401.44 220.7 401.44 220.98 401.44 221.26 401.44 221.54 401.44 221.81 401.44 222.09 401.44 222.37 401.44 222.65 401.44 222.93 401.25 223.2 400.25 223.48 399.05 223.76 398.37 224.04 398.21 224.32 398.06 224.6 397.91 224.87 397.78 225.15 397.65 225.43 397.53 225.71 397.42 225.99 397.32 226.26 397.22 226.54 397.13 226.82 397.04 227.1 396.96 227.38 396.89 227.66 396.82 227.93 396.75 228.21 396.69 228.49 396.63 228.77 396.58 229.05 396.53 229.32 396.48 229.6 396.44 229.88 396.4 230.16 396.36 230.44 396.32 230.72 396.28 230.99 396.24 231.27 396.21 231.55 396.17 231.83 396.14 232.11 396.1 232.38 396.07 232.66 396.03 232.94 395.99 233.22 395.95 233.5 395.9 233.78 395.86 234.05 395.81 234.33 395.76 234.61 395.7 234.89 395.64 235.17 395.58 235.44 395.52 235.72 395.45 236 395.38 236.28 395.31 236.56 395.23 236.84 395.16 237.11 395.08 237.39 395 237.67 394.93 237.95 394.85 238.23 394.77 238.5 394.69 238.78 394.61 239.06 394.52 239.34 394.44 239.62 394.36 239.9 394.28 240.17 394.2 240.45 394.12 240.73 394.04 241.01 393.96 241.29 393.88 241.56 393.8 241.84 393.73 242.12 393.65 242.4 393.58 242.68 393.51 242.96 393.44 243.23 393.37 243.51 393.31 243.79 393.25 244.07 393.18 244.35 393.13 244.62 393.07 244.9 393.02 245.18 392.97 245.46 392.92 245.74 392.88 246.02 392.84 246.29 392.81 246.57 392.77 246.85 392.75 247.13 392.72 247.41 392.7 247.68 392.69 247.96 392.68 248.24 392.67 248.52 392.67 248.8 392.69 249.08 392.74 249.35 392.81 249.63 392.9 249.91 393.02 250.19 393.15 250.47 393.3 250.74 393.47 251.02 393.65 251.3 393.84 251.58 394.05 251.86 394.25 252.14 394.47 252.41 394.69 252.69 394.91 252.97 395.13 253.25 395.35 253.53 395.56 253.8 395.77 254.08 395.98 254.36 396.17 254.64 396.35 254.92 396.52 255.2 396.67 255.47 396.81 255.75 396.93 256.03 397.04 256.31 397.15 256.59 397.26 256.86 397.36 257.14 397.46 257.42 397.57 257.7 397.67 257.98 397.76 258.26 397.86 258.53 397.95 258.81 398.05 259.09 398.14 259.37 398.23 259.65 398.31 259.92 398.4 260.2 398.48 260.48 398.56 260.76 398.64 261.04 398.72 261.32 398.79 261.59 398.87 261.87 398.94 262.15 399.01 262.43 399.07 262.71 399.14 262.98 399.2 263.26 399.26 263.54 399.32 263.82 399.37 264.1 399.43 264.38 399.48 264.65 399.53 264.93 399.59 265.21 399.64 265.49 399.69 265.77 399.74 266.04 399.79 266.32 399.84 266.6 399.88 266.88 399.93 267.16 399.98 267.43 400.02 267.71 400.06 267.99 400.11 268.27 400.15 268.55 400.19 268.83 400.23 269.1 400.26 269.38 400.3 269.66 400.33 269.94 400.37 270.22 400.4 270.49 400.43 270.77 400.45 271.05 400.48 271.33 400.5 271.61 400.53 271.89 400.55 272.16 400.56" fill="none" stroke="#1e1e1e" stroke-width="1.6" stroke-linejoin="round"/>
<path d="M49.9 405.1 50.01 405.11 50.12 405.11 50.23 405.12 50.34 405.13 50.46 405.14 50.57 405.15 50.68 405.15 50.79 405.16 50.9 405.17 51.01 405.18 51.12 405.19 51.23 405.19 51.35 405.2 51.46 405.21 51.57 405.22 51.68 405.23 51.79 405.23 51.9 405.24 52.01 405.25 52.12 405.26 52.23 405.26 52.35 405.27 52.46 405.28 52.57 405.29 52.68 405.3 52.79 405.3 52.9 405.31 53.01 405.32 53.12 405.33 53.24 405.34 53.35 405.34 53.46 405.35 53.57 405.36 53.68 405.37 53.79 405.38 53.9 405.38 54.01 405.39 54.13 405.4 54.24 405.41 54.35 405.41 54.46 405.42 54.57 405.43 54.68 405.44 54.79 405.45 54.9 405.45 55.01 405.46 55.13 405.47 55.24 405.48 55.35 405.49 55.46 405.49 55.57 405.5 55.68 405.51 55.79 405.52 55.9 405.53 56.02 405.53 56.13 405.54 56.24 405.55 56.35 405.56 56.46 405.56 56.57 405.57 56.68 405.58 56.79 405.59 56.9 405.6 57.02 405.6 57.13 405.61 57.24 405.62 57.35 405.63 57.46 405.64 57.57 405.64 57.68 405.65 57.79 405.66 57.91 405.67 58.02 405.68 58.13 405.68 58.24 405.69 58.35 405.7 58.46 405.71 58.57 405.72 58.68 405.72 58.8 405.73 58.91 405.74 59.02 405.75 59.13 405.75 59.24 405.76 59.35 405.77 59.46 405.78 59.57 405.79 59.68 405.79 59.8 405.8 59.91 405.81 60.02 405.82 60.13 405.83 60.24 405.83 60.35 405.84 60.46 405.85 60.57 405.86 60.69 405.87 60.8 405.87 60.91 405.88 61.02 405.89 61.13 405.9 61.24 405.91 61.35 405.91 61.46 405.92 61.57 405.93 61.69 405.94 61.8 405.95 61.91 405.95 62.02 405.96 62.13 405.97 62.24 405.98 62.35 405.99 62.46 405.99 62.58 406 62.69 406.01 62.8 406.02 62.91 406.03 63.02 406.03 63.13 406.04 63.24 406.05 63.35 406.06 63.46 406.06 63.58 406.07 63.69 406.08 63.8 406.09 63.91 406.1 64.02 406.1 64.13 406.11 64.24 406.12 64.35 406.13 64.47 406.14 64.58 406.14 64.69 406.15 64.8 406.16 64.91 406.17 65.02 406.17 65.13 406.18 65.24 406.19 65.36 406.2 65.47 406.21 65.58 406.21 65.69 406.22 65.8 406.23 65.91 406.24 66.02 406.25 66.13 406.25 66.24 406.26 66.36 406.27 66.47 406.28 66.58 406.28 66.69 406.29 66.8 406.3 66.91 406.31 67.02 406.32 67.13 406.33 67.25 406.34 67.36 406.34 67.47 406.35 67.58 406.36 67.69 406.37 67.8 406.38 67.91 406.39 68.02 406.4 68.13 406.41 68.25 406.42 68.36 406.43 68.47 406.44 68.58 406.45 68.69 406.46 68.8 406.47 68.91 406.48 69.02 406.49 69.14 406.5 69.25 406.51 69.36 406.52 69.47 406.53 69.58 406.54 69.69 406.55 69.8 406.56 69.91 406.57 70.02 406.58 70.14 406.59 70.25 406.6 70.36 406.61 70.47 406.62 70.58 406.63 70.69 406.64 70.8 406.65 70.91 406.66 71.03 406.66 71.14 406.67 71.25 406.68 71.36 406.69 71.47 406.7 71.58 406.71 71.69 406.72 71.8 406.72 71.92 406.73 72.03 406.74 72.14 406.75 72.25 406.75 72.36 406.76 72.47 406.77 72.58 406.78 72.69 406.78 72.8 406.79 72.92 406.79 73.03 406.8 73.14 406.81 73.25 406.81 73.36 406.82 73.47 406.82 73.58 406.82 73.69 406.83 73.81 406.83 73.92 406.84 74.03 406.84 74.14 406.84 74.25 406.85 74.36 406.85 74.47 406.85 74.58 406.85 74.69 406.85 74.81 406.85 74.92 406.85 75.03 406.51 75.14 396.79 75.25 385.3 75.36 378.75 75.47 374.36 75.58 373.35 75.7 372.75 75.81 372.32 75.92 372.01 76.03 371.75 76.14 371.48 76.25 371.14 76.36 370.76 76.47 370.38 76.59 370 76.7 369.63 76.81 369.26 76.92 368.89 77.03 368.53 77.14 368.18 77.25 367.84 77.36 367.5 77.47 367.18 77.59 366.86 77.7 366.55 77.81 366.26 77.92 365.97 78.03 365.69 78.14 365.42 78.25 365.15 78.36 364.88 78.48 364.61 78.59 364.35 78.7 364.09 78.81 363.83 78.92 363.58 79.03 363.34 79.14 363.1 79.25 362.87 79.36 362.64 79.48 362.42 79.59 362.21 79.7 362 79.81 361.8 79.92 361.61 80.03 361.42 80.14 361.25 80.25 361.08 80.37 360.92 80.48 360.77 80.59 360.62 80.7 360.47 80.81 360.32 80.92 360.18 81.03 360.04 81.14 359.9 81.25 359.77 81.37 359.64 81.48 359.51 81.59 359.38 81.7 359.26 81.81 359.14 81.92 359.02 82.03 358.9 82.14 358.79 82.26 358.68 82.37 358.57 82.48 358.47 82.59 358.37 82.7 358.27 82.81 358.18 82.92 358.09 83.03 358 83.15 357.91 83.26 357.83 83.37 357.75 83.48 357.68 83.59 357.61 83.7 357.54 83.81 357.47 83.92 357.4 84.03 357.33 84.15 357.27 84.26 357.2 84.37 357.14 84.48 357.08 84.59 357.01 84.7 356.95 84.81 356.9 84.92 356.84 85.04 356.78 85.15 356.73 85.26 356.67 85.37 356.62 85.48 356.57 85.59 356.52 85.7 356.48 85.81 356.43 85.92 356.39 86.04 356.35 86.15 356.31 86.26 356.27 86.37 356.24 86.48 356.21 86.59 356.18 86.7 356.15 86.81 356.13 86.93 356.11 87.04 356.09 87.15 356.07 87.26 356.05 87.37 356.03 87.48 356.02 87.59 356 87.7 355.98 87.81 355.97 87.93 355.95 88.04 355.93 88.15 355.92 88.26 355.9 88.37 355.89 88.48 355.88 88.59 355.86 88.7 355.85 88.82 355.83 88.93 355.82 89.04 355.81 89.15 355.8 89.26 355.79 89.37 355.77 89.48 355.76 89.59 355.75 89.71 355.74 89.82 355.73 89.93 355.72 90.04 355.71 90.15 355.7 90.26 355.69 90.37 355.68 90.48 355.67 90.59 355.66 90.71 355.65 90.82 355.64 90.93 355.64 91.04 355.63 91.15 355.62 91.26 355.61 91.37 355.6 91.48 355.6 91.6 355.59 91.71 355.58 91.82 355.57 91.93 355.57 92.04 355.56 92.15 355.55 92.26 355.55 92.37 355.54 92.48 355.53 92.6 355.53 92.71 355.52 92.82 355.51 92.93 355.51 93.04 355.5 93.15 355.49 93.26 355.49 93.37 355.48 93.49 355.47 93.6 355.47 93.71 355.46 93.82 355.45 93.93 355.45 94.04 355.44 94.15 355.43 94.26 355.43 94.38 355.42 94.49 355.42 94.6 355.41 94.71 355.4 94.82 355.4 94.93 355.39 95.04 355.38 95.15 355.38 95.26 355.37 95.38 355.37 95.49 355.36 95.6 355.35 95.71 355.35 95.82 355.34 95.93 355.34 96.04 355.33 96.15 355.33 96.27 355.32 96.38 355.32 96.49 355.31 96.6 355.31 96.71 355.3 96.82 355.3 96.93 355.29 97.04 355.29 97.15 355.28 97.27 355.28 97.38 355.28 97.49 355.27 97.6 355.27 97.71 355.26 97.82 355.26 97.93 355.26 98.04 355.25 98.16 355.25 98.27 355.25 98.38 355.25 98.49 355.24 98.6 355.24 98.71 355.24 98.82 355.24 98.93 355.23 99.04 355.23 99.16 355.23 99.27 355.23 99.38 355.23 99.49 355.23 99.6 355.23 99.71 355.23 99.82 355.23 99.93 355.45 100.05 356.61 100.16 358.31 100.27 360.03 100.38 361.7 100.49 363.47 100.6 365.05 100.71 366.59 100.82 368.11 100.94 369.59 101.05 371.03 101.16 372.41 101.27 373.74 101.38 374.98 101.49 376.15 101.6 377.21 101.71 378.22 101.82 379.2 101.94 380.15 102.05 381.07 102.16 381.96 102.27 382.8 102.38 383.61 102.49 384.38 102.6 385.1 102.71 385.77 102.83 386.4 102.94 386.97 103.05 387.49 103.16 387.99 103.27 388.48 103.38 388.95 103.49 389.4 103.6 389.84 103.71 390.27 103.83 390.68 103.94 391.07 104.05 391.45 104.16 391.81 104.27 392.16 104.38 392.5 104.49 392.82 104.6 393.12 104.72 393.42 104.83 393.69 104.94 393.96 105.05 394.21 105.16 394.45 105.27 394.67 105.38 394.89 105.49 395.11 105.6 395.32 105.72 395.52 105.83 395.72 105.94 395.92 106.05 396.11 106.16 396.3 106.27 396.48 106.38 396.66 106.49 396.84 106.61 397.01 106.72 397.17 106.83 397.34 106.94 397.49 107.05 397.65 107.16 397.8 107.27 397.95 107.38 398.09 107.5 398.23 107.61 398.36 107.72 398.49 107.83 398.62 107.94 398.74 108.05 398.86 108.16 398.98 108.27 399.09 108.38 399.2 108.5 399.31 108.61 399.41 108.72 399.51 108.83 399.61 108.94 399.7 109.05 399.79 109.16 399.88 109.27 399.97 109.39 400.06 109.5 400.14 109.61 400.23 109.72 400.31 109.83 400.39 109.94 400.47 110.05 400.55 110.16 400.63 110.27 400.71 110.39 400.78 110.5 400.85 110.61 400.93 110.72 401 110.83 401.07 110.94 401.14 111.05 401.21 111.16 401.27 111.28 401.34 111.39 401.4 111.5 401.46 111.61 401.53 111.72 401.59 111.83 401.65 111.94 401.71 112.05 401.76 112.17 401.82 112.28 401.87 112.39 401.93 112.5 401.98 112.61 402.03 112.72 402.09 112.83 402.14 112.94 402.18 113.05 402.23 113.17 402.28 113.28 402.33 113.39 402.37 113.5 402.42 113.61 402.46 113.72 402.5 113.83 402.54 113.94 402.58 114.06 402.62 114.17 402.66 114.28 402.7 114.39 402.74 114.5 402.78 114.61 402.81 114.72 402.85 114.83 402.89 114.94 402.92 115.06 402.96 115.17 402.99 115.28 403.02 115.39 403.06 115.5 403.09 115.61 403.12 115.72 403.16 115.83 403.19 115.95 403.22 116.06 403.25 116.17 403.28 116.28 403.31 116.39 403.34 116.5 403.37 116.61 403.4 116.72 403.43 116.83 403.46 116.95 403.49 117.06 403.51 117.17 403.54 117.28 403.57 117.39 403.59 117.5 403.62 117.61 403.64 117.72 403.67 117.84 403.69 117.95 403.72 118.06 403.74 118.17 403.77 118.28 403.79 118.39 403.81 118.5 403.84 118.61 403.86 118.73 403.88 118.84 403.9 118.95 403.92 119.06 403.94 119.17 403.96 119.28 403.99 119.39 404.01 119.5 404.03 119.61 404.04 119.73 404.06 119.84 404.08 119.95 404.1 120.06 404.12 120.17 404.14 120.28 404.16 120.39 404.18 120.5 404.2 120.62 404.22 120.73 404.24 120.84 404.26 120.95 404.28 121.06 404.3 121.17 404.32 121.28 404.34 121.39 404.36 121.5 404.38 121.62 404.4 121.73 404.42 121.84 404.44 121.95 404.45 122.06 404.47 122.17 404.49 122.28 404.5 122.39 404.52 122.51 404.53 122.62 404.55 122.73 404.56 122.84 404.57 122.95 404.59 123.06 404.6 123.17 404.61 123.28 404.62 123.39 404.63 123.51 404.64 123.62 404.64 123.73 404.65 123.84 404.65 123.95 404.66 124.06 404.66 124.17 404.66 124.28 401.95 124.4 384.04 124.51 367.69 124.62 355.7 124.73 345.81 124.84 340.1 124.95 336.47 125.06 333.52 125.17 331.13 125.29 329.17 125.4 327.53 125.51 326.09 125.62 324.82 125.73 323.7 125.84 322.71 125.95 321.82 126.06 320.98 126.17 320.16 126.29 319.35 126.4 318.49 126.51 317.61 126.62 316.71 126.73 315.8 126.84 314.91 126.95 314.02 127.06 313.16 127.18 312.33 127.29 311.55 127.4 310.82 127.51 310.15 127.62 309.56 127.73 309.04 127.84 308.6 127.95 308.19 128.06 307.78 128.18 307.39 128.29 307.01 128.4 306.65 128.51 306.3 128.62 305.96 128.73 305.63 128.84 305.31 128.95 305.01 129.07 304.72 129.18 304.44 129.29 304.17 129.4 303.92 129.51 303.67 129.62 303.44 129.73 303.21 129.84 303 129.96 302.8 130.07 302.6 130.18 302.42 130.29 302.25 130.4 302.08 130.51 301.93 130.62 301.78 130.73 301.64 130.84 301.5 130.96 301.37 131.07 301.24 131.18 301.11 131.29 300.98 131.4 300.86 131.51 300.74 131.62 300.62 131.73 300.5 131.85 300.39 131.96 300.28 132.07 300.17 132.18 300.07 132.29 299.97 132.4 299.87 132.51 299.77 132.62 299.68 132.73 299.59 132.85 299.5 132.96 299.42 133.07 299.33 133.18 299.25 133.29 299.17 133.4 299.1 133.51 299.02 133.62 298.95 133.74 298.88 133.85 298.81 133.96 298.75 134.07 298.68 134.18 298.62 134.29 298.57 134.4 298.51 134.51 298.45 134.62 298.4 134.74 298.35 134.85 298.3 134.96 298.26 135.07 298.21 135.18 298.16 135.29 298.11 135.4 298.07 135.51 298.02 135.63 297.98 135.74 297.94 135.85 297.89 135.96 297.85 136.07 297.81 136.18 297.77 136.29 297.73 136.4 297.69 136.52 297.65 136.63 297.61 136.74 297.57 136.85 297.53 136.96 297.5 137.07 297.46 137.18 297.43 137.29 297.39 137.4 297.36 137.52 297.32 137.63 297.29 137.74 297.26 137.85 297.23 137.96 297.2 138.07 297.17 138.18 297.14 138.29 297.11 138.41 297.08 138.52 297.06 138.63 297.03 138.74 297.01 138.85 296.98 138.96 296.96 139.07 296.94 139.18 296.91 139.29 296.89 139.41 296.87 139.52 296.85 139.63 296.83 139.74 296.81 139.85 296.8 139.96 296.78 140.07 296.77 140.18 296.75 140.3 296.74 140.41 296.72 140.52 296.71 140.63 296.7 140.74 296.68 140.85 296.67 140.96 296.66 141.07 296.65 141.19 296.63 141.3 296.62 141.41 296.61 141.52 296.6 141.63 296.58 141.74 296.57 141.85 296.56 141.96 296.55 142.07 296.54 142.19 296.53 142.3 296.51 142.41 296.5 142.52 296.49 142.63 296.48 142.74 296.47 142.85 296.46 142.96 296.45 143.08 296.44 143.19 296.43 143.3 296.42 143.41 296.41 143.52 296.4 143.63 296.39 143.74 296.38 143.85 296.37 143.96 296.36 144.08 296.35 144.19 296.34 144.3 296.33 144.41 296.32 144.52 296.31 144.63 296.3 144.74 296.3 144.85 296.29 144.97 296.28 145.08 296.27 145.19 296.27 145.3 296.26 145.41 296.25 145.52 296.24 145.63 296.24 145.74 296.23 145.85 296.22 145.97 296.22 146.08 296.21 146.19 296.21 146.3 296.2 146.41 296.2 146.52 296.19 146.63 296.19 146.74 296.18 146.86 296.18 146.97 296.17 147.08 296.17 147.19 296.17 147.3 296.16 147.41 296.16 147.52 296.16 147.63 296.15 147.75 296.15 147.86 296.15 147.97 296.15 148.08 296.15 148.19 296.15 148.3 296.14 148.41 296.14 148.52 296.14 148.63 296.14 148.75 296.26 148.86 297.02 148.97 298.32 149.08 300.01 149.19 301.94 149.3 305.18 149.41 309.74 149.52 314.54 149.64 318.68 149.75 322.69 149.86 326.72 149.97 330.7 150.08 334.51 150.19 338.05 150.3 341.25 150.41 343.99 150.52 346.41 150.64 348.72 150.75 350.91 150.86 352.99 150.97 354.95 151.08 356.8 151.19 358.54 151.3 360.18 151.41 361.7 151.53 363.12 151.64 364.44 151.75 365.66 151.86 366.81 151.97 367.92 152.08 369 152.19 370.04 152.3 371.04 152.41 372 152.53 372.93 152.64 373.82 152.75 374.68 152.86 375.51 152.97 376.3 153.08 377.06 153.19 377.78 153.3 378.48 153.42 379.14 153.53 379.78 153.64 380.38 153.75 380.96 153.86 381.51 153.97 382.03 154.08 382.55 154.19 383.06 154.31 383.56 154.42 384.04 154.53 384.52 154.64 384.99 154.75 385.44 154.86 385.89 154.97 386.33 155.08 386.75 155.19 387.16 155.31 387.57 155.42 387.96 155.53 388.34 155.64 388.71 155.75 389.06 155.86 389.41 155.97 389.74 156.08 390.06 156.2 390.37 156.31 390.67 156.42 390.95 156.53 391.22 156.64 391.48 156.75 391.72 156.86 391.96 156.97 392.18 157.08 392.38 157.2 392.58 157.31 392.78 157.42 392.97 157.53 393.16 157.64 393.34 157.75 393.53 157.86 393.71 157.97 393.88 158.09 394.06 158.2 394.23 158.31 394.4 158.42 394.56 158.53 394.73 158.64 394.89 158.75 395.04 158.86 395.2 158.98 395.35 159.09 395.49 159.2 395.64 159.31 395.78 159.42 395.92 159.53 396.06 159.64 396.19 159.75 396.32 159.86 396.45 159.98 396.57 160.09 396.7 160.2 396.81 160.31 396.93 160.42 397.04 160.53 397.15 160.64 397.26 160.75 397.37 160.87 397.47 160.98 397.57 161.09 397.67 161.2 397.76 161.31 397.85 161.42 397.94 161.53 398.03 161.64 398.11 161.75 398.19 161.87 398.27 161.98 398.34 162.09 398.41 162.2 398.48 162.31 398.55 162.42 398.61 162.53 398.67 162.64 398.73 162.76 398.79 162.87 398.85 162.98 398.9 163.09 398.96 163.2 399.01 163.31 399.06 163.42 399.11 163.53 399.16 163.64 399.21 163.76 399.26 163.87 399.3 163.98 399.35 164.09 399.39 164.2 399.44 164.31 399.48 164.42 399.52 164.53 399.56 164.65 399.6 164.76 399.64 164.87 399.68 164.98 399.72 165.09 399.75 165.2 399.79 165.31 399.83 165.42 399.86 165.54 399.9 165.65 399.93 165.76 399.97 165.87 400 165.98 400.03 166.09 400.06 166.2 400.1 166.31 400.13 166.42 400.16 166.54 400.19 166.65 400.22 166.76 400.26 166.87 400.29 166.98 400.32 167.09 400.35 167.2 400.38 167.31 400.41 167.43 400.44 167.54 400.47 167.65 400.51 167.76 400.54 167.87 400.57 167.98 400.6 168.09 400.63 168.2 400.67 168.31 400.7 168.43 400.73 168.54 400.77 168.65 400.8 168.76 400.84 168.87 400.87 168.98 400.91 169.09 400.95 169.2 400.98 169.32 401.02 169.43 401.06 169.54 401.1 169.65 401.14 169.76 401.19 169.87 401.23 169.98 401.28 170.09 401.33 170.2 401.37 170.32 401.42 170.43 401.47 170.54 401.52 170.65 401.57 170.76 401.62 170.87 401.67 170.98 401.72 171.09 401.77 171.21 401.82 171.32 401.87 171.43 401.92 171.54 401.96 171.65 402.01 171.76 402.06 171.87 402.1 171.98 402.15 172.1 402.19 172.21 402.23 172.32 402.27 172.43 402.31 172.54 402.35 172.65 402.38 172.76 402.41 172.87 402.45 172.98 402.47 173.1 402.5 173.21 402.52 173.32 402.55 173.43 402.56 173.54 402.58 173.65 402.59 173.76 402.6 173.87 402.61 173.99 402.61 174.1 396.86 174.21 377.3 174.32 367.23 174.43 358.86 174.54 351.71 174.65 345.34 174.76 339.3 174.87 333.13 174.99 326.78 175.1 320.51 175.21 314.47 175.32 308.82 175.43 303.73 175.54 299.35 175.65 295.74 175.76 292.44 175.88 289.52 175.99 287.17 176.1 285.6 176.21 284.53 176.32 283.59 176.43 282.75 176.54 282.03 176.65 281.4 176.77 280.86 176.88 280.41 176.99 280.03 177.1 279.73 177.21 279.46 177.32 279.2 177.43 278.95 177.54 278.71 177.65 278.49 177.77 278.28 177.88 278.08 177.99 277.89 178.1 277.71 178.21 277.54 178.32 277.38 178.43 277.23 178.54 277.09 178.66 276.96 178.77 276.84 178.88 276.73 178.99 276.63 179.1 276.54 179.21 276.46 179.32 276.38 179.43 276.32 179.54 276.26 179.66 276.2 179.77 276.15 179.88 276.1 179.99 276.05 180.1 276 180.21 275.95 180.32 275.9 180.43 275.86 180.55 275.81 180.66 275.77 180.77 275.73 180.88 275.69 180.99 275.65 181.1 275.61 181.21 275.58 181.32 275.54 181.43 275.51 181.55 275.48 181.66 275.45 181.77 275.42 181.88 275.39 181.99 275.37 182.1 275.35 182.21 275.32 182.32 275.31 182.44 275.29 182.55 275.27 182.66 275.26 182.77 275.25 182.88 275.24 182.99 275.24 183.1 275.23 183.21 275.23 183.33 275.23 183.44 275.23 183.55 275.24 183.66 275.26 183.77 275.27 183.88 275.3 183.99 275.32 184.1 275.35 184.21 275.38 184.33 275.41 184.44 275.45 184.55 275.49 184.66 275.53 184.77 275.57 184.88 275.62 184.99 275.67 185.1 275.71 185.22 275.76 185.33 275.82 185.44 275.87 185.55 275.92 185.66 275.97 185.77 276.03 185.88 276.08 185.99 276.14 186.1 276.19 186.22 276.24 186.33 276.3 186.44 276.35 186.55 276.4 186.66 276.45 186.77 276.5 186.88 276.56 186.99 276.61 187.11 276.67 187.22 276.73 187.33 276.79 187.44 276.86 187.55 276.92 187.66 276.99 187.77 277.05 187.88 277.12 187.99 277.19 188.11 277.26 188.22 277.33 188.33 277.41 188.44 277.48 188.55 277.55 188.66 277.63 188.77 277.7 188.88 277.78 189 277.86 189.11 277.93 189.22 278.01 189.33 278.09 189.44 278.17 189.55 278.25 189.66 278.33 189.77 278.4 189.89 278.48 190 278.56 190.11 278.64 190.22 278.72 190.33 278.8 190.44 278.87 190.55 278.95 190.66 279.03 190.77 279.11 190.89 279.18 191 279.26 191.11 279.34 191.22 279.41 191.33 279.49 191.44 279.57 191.55 279.64 191.66 279.72 191.78 279.8 191.89 279.88 192 279.95 192.11 280.03 192.22 280.11 192.33 280.19 192.44 280.27 192.55 280.35 192.66 280.43 192.78 280.51 192.89 280.59 193 280.68 193.11 280.76 193.22 280.84 193.33 280.93 193.44 281.01 193.55 281.1 193.67 281.18 193.78 281.27 193.89 281.36 194 281.45 194.11 281.54 194.22 281.63 194.33 281.72 194.44 281.81 194.56 281.91 194.67 282 194.78 282.1 194.89 282.19 195 282.27 195.11 282.35 195.22 282.42 195.33 282.49 195.44 282.55 195.56 282.6 195.67 282.66 195.78 282.71 195.89 282.76 196 282.81 196.11 282.87 196.22 282.92 196.33 282.98 196.45 283.04 196.56 283.1 196.67 283.17 196.78 283.25 196.89 283.34 197 283.43 197.11 283.53 197.22 283.64 197.33 283.76 197.45 283.9 197.56 284.05 197.67 284.21 197.78 284.38 197.89 284.57 198 284.78 198.11 285.01 198.22 285.25 198.34 285.51 198.45 285.8 198.56 286.94 198.67 290.99 198.78 295.91 198.89 299.96 199 303.98 199.11 308 199.22 312 199.34 316.07 199.45 320.17 199.56 324.24 199.67 328.26 199.78 332.16 199.89 335.91 200 339.49 200.11 343.08 200.23 346.68 200.34 350.21 200.45 353.56 200.56 356.65 200.67 359.36 200.78 361.61 200.89 363.51 201 365.32 201.12 367.03 201.23 368.65 201.34 370.18 201.45 371.61 201.56 372.96 201.67 374.21 201.78 375.36 201.89 376.42 202 377.39 202.12 378.27 202.23 379.05 202.34 379.76 202.45 380.43 202.56 381.07 202.67 381.7 202.78 382.3 202.89 382.88 203.01 383.44 203.12 383.98 203.23 384.5 203.34 384.99 203.45 385.47 203.56 385.93 203.67 386.38 203.78 386.8 203.89 387.21 204.01 387.61 204.12 387.98 204.23 388.35 204.34 388.7 204.45 389.03 204.56 389.35 204.67 389.66 204.78 389.96 204.9 390.24 205.01 390.52 205.12 390.78 205.23 391.04 205.34 391.29 205.45 391.53 205.56 391.77 205.67 392.01 205.79 392.25 205.9 392.48 206.01 392.7 206.12 392.92 206.23 393.14 206.34 393.36 206.45 393.57 206.56 393.78 206.67 393.98 206.79 394.18 206.9 394.37 207.01 394.56 207.12 394.75 207.23 394.93 207.34 395.11 207.45 395.28 207.56 395.45 207.68 395.61 207.79 395.77 207.9 395.92 208.01 396.07 208.12 396.21 208.23 396.35 208.34 396.49 208.45 396.62 208.56 396.74 208.68 396.86 208.79 396.97 208.9 397.08 209.01 397.18 209.12 397.28 209.23 397.37 209.34 397.46 209.45 397.54 209.57 397.62 209.68 397.69 209.79 397.76 209.9 397.83 210.01 397.9 210.12 397.96 210.23 398.03 210.34 398.09 210.45 398.16 210.57 398.22 210.68 398.29 210.79 398.35 210.9 398.41 211.01 398.47 211.12 398.53 211.23 398.59 211.34 398.65 211.46 398.7 211.57 398.76 211.68 398.81 211.79 398.87 211.9 398.92 212.01 398.97 212.12 399.03 212.23 399.08 212.35 399.13 212.46 399.18 212.57 399.22 212.68 399.27 212.79 399.32 212.9 399.36 213.01 399.41 213.12 399.45 213.23 399.49 213.35 399.54 213.46 399.58 213.57 399.62 213.68 399.66 213.79 399.7 213.9 399.73 214.01 399.77 214.12 399.81 214.24 399.84 214.35 399.87 214.46 399.91 214.57 399.94 214.68 399.97 214.79 400 214.9 400.03 215.01 400.06 215.12 400.09 215.24 400.12 215.35 400.14 215.46 400.17 215.57 400.19 215.68 400.22 215.79 400.24 215.9 400.26 216.01 400.28 216.13 400.3 216.24 400.32 216.35 400.34 216.46 400.36 216.57 400.37 216.68 400.39 216.79 400.4 216.9 400.42 217.01 400.43 217.13 400.44 217.24 400.46 217.35 400.47 217.46 400.48 217.57 400.49 217.68 400.51 217.79 400.52 217.9 400.53 218.02 400.54 218.13 400.55 218.24 400.57 218.35 400.58 218.46 400.59 218.57 400.6 218.68 400.61 218.79 400.62 218.91 400.63 219.02 400.65 219.13 400.66 219.24 400.67 219.35 400.68 219.46 400.69 219.57 400.7 219.68 400.7 219.79 400.71 219.91 400.72 220.02 400.73 220.13 400.74 220.24 400.75 220.35 400.76 220.46 400.76 220.57 400.77 220.68 400.78 220.8 400.79 220.91 400.79 221.02 400.8 221.13 400.8 221.24 400.81 221.35 400.82 221.46 400.82 221.57 400.83 221.68 400.83 221.8 400.83 221.91 400.84 222.02 400.84 222.13 400.85 222.24 400.85 222.35 400.85 222.46 400.85 222.57 400.85 222.69 400.86 222.8 400.86 222.91 400.86 223.02 400.86 223.13 398.73 223.24 393.31 223.35 386.01 223.46 378.26 223.58 371.46 223.69 366.04 223.8 360.74 223.91 355.54 224.02 350.47 224.13 345.57 224.24 340.86 224.35 336.38 224.46 332.14 224.58 327.99 224.69 323.93 224.8 319.98 224.91 316.17 225.02 312.54 225.13 309.11 225.24 305.91 225.35 302.98 225.47 300.29 225.58 297.63 225.69 295.09 225.8 292.78 225.91 290.84 226.02 289.39 226.13 288.43 226.24 287.6 226.35 286.84 226.47 286.15 226.58 285.53 226.69 284.98 226.8 284.48 226.91 284.05 227.02 283.68 227.13 283.36 227.24 283.09 227.36 282.87 227.47 282.66 227.58 282.46 227.69 282.26 227.8 282.07 227.91 281.89 228.02 281.72 228.13 281.57 228.24 281.42 228.36 281.29 228.47 281.17 228.58 281.07 228.69 280.98 228.8 280.9 228.91 280.85 229.02 280.81 229.13 280.79 229.25 280.79 229.36 280.8 229.47 280.81 229.58 280.84 229.69 280.87 229.8 280.91 229.91 280.95 230.02 281 230.14 281.05 230.25 281.1 230.36 281.16 230.47 281.22 230.58 281.28 230.69 281.35 230.8 281.41 230.91 281.47 231.02 281.53 231.14 281.59 231.25 281.67 231.36 281.75 231.47 281.84 231.58 281.94 231.69 282.04 231.8 282.14 231.91 282.25 232.03 282.37 232.14 282.48 232.25 282.6 232.36 282.72 232.47 282.84 232.58 282.95 232.69 283.07 232.8 283.18 232.91 283.29 233.03 283.4 233.14 283.5 233.25 283.59 233.36 283.68 233.47 283.76 233.58 283.83 233.69 283.89 233.8 283.95 233.92 283.99 234.03 284.02 234.14 284.05 234.25 284.08 234.36 284.11 234.47 284.14 234.58 284.16 234.69 284.19 234.8 284.21 234.92 284.24 235.03 284.26 235.14 284.28 235.25 284.31 235.36 284.33 235.47 284.35 235.58 284.37 235.69 284.39 235.81 284.41 235.92 284.42 236.03 284.44 236.14 284.45 236.25 284.47 236.36 284.48 236.47 284.5 236.58 284.51 236.7 284.52 236.81 284.53 236.92 284.54 237.03 284.55 237.14 284.56 237.25 284.57 237.36 284.58 237.47 284.58 237.58 284.59 237.7 284.59 237.81 284.6 237.92 284.6 238.03 284.61 238.14 284.61 238.25 284.62 238.36 284.62 238.47 284.63 238.59 284.63 238.7 284.64 238.81 284.64 238.92 284.65 239.03 284.65 239.14 284.65 239.25 284.66 239.36 284.66 239.47 284.67 239.59 284.67 239.7 284.67 239.81 284.68 239.92 284.68 240.03 284.68 240.14 284.69 240.25 284.69 240.36 284.69 240.48 284.7 240.59 284.7 240.7 284.7 240.81 284.7 240.92 284.71 241.03 284.71 241.14 284.71 241.25 284.71 241.37 284.72 241.48 284.72 241.59 284.72 241.7 284.72 241.81 284.72 241.92 284.72 242.03 284.73 242.14 284.73 242.25 284.73 242.37 284.73 242.48 284.73 242.59 284.73 242.7 284.73 242.81 284.73 242.92 284.73 243.03 284.73 243.14 284.73 243.26 284.73 243.37 284.74 243.48 284.74 243.59 284.74 243.7 284.74 243.81 284.74 243.92 284.74 244.03 284.74 244.14 284.74 244.26 284.74 244.37 284.74 244.48 284.74 244.59 284.74 244.7 284.74 244.81 284.74 244.92 284.74 245.03 284.74 245.15 284.74 245.26 284.74 245.37 284.74 245.48 284.74 245.59 284.74 245.7 284.74 245.81 284.74 245.92 284.74 246.03 284.74 246.15 284.74 246.26 284.74 246.37 284.74 246.48 284.74 246.59 284.74 246.7 284.74 246.81 284.74 246.92 284.74 247.04 284.74 247.15 284.74 247.26 284.74 247.37 284.74 247.48 284.74 247.59 284.74 247.7 284.74 247.81 284.74 247.93 284.74 248.04 284.74 248.15 284.74 248.26 284.74 248.37 284.81 248.48 285.17 248.59 285.74 248.7 286.47 248.81 287.34 248.93 288.99 249.04 291.42 249.15 294.3 249.26 297.31 249.37 300.12 249.48 302.43 249.59 304.4 249.7 306.25 249.82 308.15 249.93 310.25 250.04 312.74 250.15 315.63 250.26 318.69 250.37 321.72 250.48 324.49 250.59 326.81 250.7 328.75 250.82 330.59 250.93 332.33 251.04 333.97 251.15 335.52 251.26 336.99 251.37 338.38 251.48 339.69 251.59 340.94 251.71 342.12 251.82 343.24 251.93 344.32 252.04 345.38 252.15 346.41 252.26 347.41 252.37 348.38 252.48 349.33 252.59 350.24 252.71 351.12 252.82 351.97 252.93 352.79 253.04 353.57 253.15 354.32 253.26 355.03 253.37 355.7 253.48 356.34 253.6 356.93 253.71 357.48 253.82 358.01 253.93 358.52 254.04 359.02 254.15 359.5 254.26 359.97 254.37 360.43 254.49 360.88 254.6 361.32 254.71 361.74 254.82 362.15 254.93 362.55 255.04 362.94 255.15 363.31 255.26 363.67 255.37 364.02 255.49 364.36 255.6 364.69 255.71 365 255.82 365.3 255.93 365.59 256.04 365.87 256.15 366.13 256.26 366.38 256.38 366.63 256.49 366.85 256.6 367.07 256.71 367.29 256.82 367.51 256.93 367.73 257.04 367.95 257.15 368.17 257.26 368.39 257.38 368.6 257.49 368.81 257.6 369.02 257.71 369.22 257.82 369.42 257.93 369.62 258.04 369.81 258.15 369.99 258.27 370.17 258.38 370.34 258.49 370.5 258.6 370.66 258.71 370.81 258.82 370.95 258.93 371.08 259.04 371.2 259.16 371.31 259.27 371.4 259.38 371.49 259.49 371.57 259.6 371.63 259.71 371.68 259.82 371.72 259.93 371.74 260.04 371.75 260.16 371.75 260.27 371.75 260.38 371.75 260.49 371.75 260.6 371.75 260.71 371.75 260.82 371.74 260.93 371.74 261.05 371.74 261.16 371.74 261.27 371.73 261.38 371.73 261.49 371.72 261.6 371.72 261.71 371.72 261.82 371.71 261.93 371.71 262.05 371.7 262.16 371.69 262.27 371.69 262.38 371.68 262.49 371.68 262.6 371.67 262.71 371.66 262.82 371.66 262.94 371.65 263.05 371.64 263.16 371.64 263.27 371.63 263.38 371.62 263.49 371.61 263.6 371.61 263.71 371.6 263.82 371.59 263.94 371.58 264.05 371.57 264.16 371.55 264.27 371.54 264.38 371.52 264.49 371.5 264.6 371.48 264.71 371.46 264.83 371.44 264.94 371.42 265.05 371.39 265.16 371.37 265.27 371.34 265.38 371.32 265.49 371.29 265.6 371.26 265.72 371.23 265.83 371.2 265.94 371.17 266.05 371.14 266.16 371.1 266.27 371.07 266.38 371.03 266.49 371 266.6 370.96 266.72 370.93 266.83 370.89 266.94 370.85 267.05 370.82 267.16 370.78 267.27 370.74 267.38 370.7 267.49 370.66 267.61 370.62 267.72 370.58 267.83 370.54 267.94 370.5 268.05 370.46 268.16 370.42 268.27 370.38 268.38 370.34 268.49 370.3 268.61 370.26 268.72 370.22 268.83 370.18 268.94 370.14 269.05 370.1 269.16 370.06 269.27 370.02 269.38 369.98 269.5 369.94 269.61 369.91 269.72 369.87 269.83 369.83 269.94 369.79 270.05 369.76 270.16 369.72 270.27 369.68 270.38 369.65 270.5 369.62 270.61 369.58 270.72 369.55 270.83 369.52 270.94 369.48 271.05 369.45 271.16 369.42 271.27 369.39 271.39 369.35 271.5 369.32 271.61 369.29 271.72 369.25 271.83 369.22 271.94 369.19 272.05 369.15 272.16 369.12" fill="none" stroke="#1414ea" stroke-width="1.8" stroke-linejoin="round"/>
<rect x="49.9" y="231.5" width="222.2" height="178.5" fill="none" stroke="#4a4a4a" stroke-width="1"/>
<path d="M49.9 410v4M91.06 410v4M132.22 410v4M173.38 410v4M214.54 410v4M255.7 410v4M70.48 410v2M111.64 410v2M152.8 410v2M193.96 410v2M235.12 410v2M49.9 407h-4M49.9 377.75h-4M49.9 348.5h-4M49.9 319.25h-4M49.9 290h-4M49.9 260.75h-4M49.9 231.5h-4M49.9 392.38h-2M49.9 363.12h-2M49.9 333.88h-2M49.9 304.62h-2M49.9 275.38h-2M49.9 246.12h-2" stroke="#4a4a4a" stroke-width="1" fill="none"/>
<text x="49.9" y="423.4" text-anchor="middle" class="tk">0</text>
<text x="91.06" y="423.4" text-anchor="middle" class="tk">500</text>
<text x="132.22" y="423.4" text-anchor="middle" class="tk">1000</text>
<text x="173.38" y="423.4" text-anchor="middle" class="tk">1500</text>
<text x="214.54" y="423.4" text-anchor="middle" class="tk">2000</text>
<text x="255.7" y="423.4" text-anchor="middle" class="tk">2500</text>
<text x="43.6" y="409.7" text-anchor="end" class="tk">0</text>
<text x="43.6" y="380.45" text-anchor="end" class="tk">20</text>
<text x="43.6" y="351.2" text-anchor="end" class="tk">40</text>
<text x="43.6" y="321.95" text-anchor="end" class="tk">60</text>
<text x="43.6" y="292.7" text-anchor="end" class="tk">80</text>
<text x="43.6" y="263.45" text-anchor="end" class="tk">100</text>
<text x="43.6" y="234.2" text-anchor="end" class="tk">120</text>
<text x="161" y="439.7" text-anchor="middle" class="at">Time (s)</text>
<text transform="translate(24.4 320.25) rotate(-90)" x="0" y="0" text-anchor="middle" class="at ay">Response (%)</text>
<text x="88.8" y="337" text-anchor="middle" class="bl">20% RH</text>
<text x="135.4" y="279.6" text-anchor="middle" class="bl">50% RH</text>
<text x="183.9" y="261.1" text-anchor="middle" class="bl">70% RH</text>
<text x="237" y="261.1" text-anchor="middle" class="bl">95% RH</text>
<path d="M326.8 406.7 327.82 406.69 328.84 406.63 329.85 406.52 330.87 406.34 331.89 406.09 332.91 405.76 333.92 405.35 334.94 404.84 335.96 404.24 336.98 403.55 338 402.76 339.01 401.88 340.03 400.89 341.05 399.81 342.07 398.63 343.08 397.36 344.1 395.99 345.12 394.53 346.14 392.99 347.16 391.37 348.17 389.66 349.19 387.89 350.21 386.04 351.23 384.13 352.24 382.16 353.26 380.14 354.28 378.06 355.3 375.95 356.32 373.8 357.33 371.62 358.35 369.41 359.37 367.18 360.39 364.94 361.4 362.69 362.42 360.43 363.44 358.17 364.46 355.91 365.48 353.65 366.49 351.41 367.51 349.19 368.53 346.98 369.55 344.79 370.56 342.62 371.58 340.48 372.6 338.37 373.62 336.28 374.64 334.23 375.65 332.21 376.67 330.23 377.69 328.28 378.71 326.37 379.73 324.49 380.74 322.65 381.76 320.85 382.78 319.09 383.8 317.36 384.81 315.67 385.83 314.03 386.85 312.42 387.87 310.85 388.89 309.31 389.9 307.81 390.92 306.35 391.94 304.93 392.96 303.54 393.97 302.19 394.99 300.87 396.01 299.59 397.03 298.34 398.05 297.12 399.06 295.94 400.08 294.78 401.1 293.66 402.12 292.57 403.13 291.5 404.15 290.47 405.17 289.46 406.19 288.48 407.21 287.52 408.22 286.59 409.24 285.69 410.26 284.81 411.28 283.95 412.29 283.12 413.31 282.31 414.33 281.52 415.35 280.75 416.37 280 417.38 279.27 418.4 278.56 419.42 277.87 420.44 277.2 421.45 276.55 422.47 275.91 423.49 275.29 424.51 274.69 425.53 274.1 426.54 273.53 427.56 272.97 428.58 272.43 429.6 271.9 430.61 271.38 431.63 270.88 432.65 270.39 433.67 269.91 434.69 269.44 435.7 268.99 436.72 268.55 437.74 268.12 438.76 267.69 439.77 267.28 440.79 266.88 441.81 266.49 442.83 266.11 443.85 265.74 444.86 265.38 445.88 265.02 446.9 264.68 447.92 264.34 448.93 264.01 449.95 263.69 450.97 263.37 451.99 263.06 453.01 262.76 454.02 262.47 455.04 262.18 456.06 261.9 457.08 261.63 458.09 261.36 459.11 261.1 460.13 260.85 461.15 260.6 462.17 260.35 463.18 260.11 464.2 259.88 465.22 259.65 466.24 259.43 467.25 259.21 468.27 258.99 469.29 258.78 470.31 258.58 471.33 258.38 472.34 258.18 473.36 257.99 474.38 257.8 475.4 257.61 476.41 257.43 477.43 257.26 478.45 257.08 479.47 256.91 480.49 256.75 481.5 256.58 482.52 256.42 483.54 256.27 484.56 256.11 485.58 255.96 486.59 255.82 487.61 255.67 488.63 255.53 489.65 255.39 490.66 255.25 491.68 255.12 492.7 254.99 493.72 254.86 494.74 254.73 495.75 254.61 496.77 254.49 497.79 254.37 498.81 254.25 499.82 254.14 500.84 254.02 501.86 253.91 502.88 253.8 503.9 253.7 504.91 253.59 505.93 253.49 506.95 253.39 507.97 253.29 508.98 253.19 510 253.09 511.02 253 512.04 252.91 513.06 252.82 514.07 252.73 515.09 252.64 516.11 252.55 517.13 252.47 518.14 252.38 519.16 252.3 520.18 252.22 521.2 252.14 522.22 252.06 523.23 251.99 524.25 251.91 525.27 251.84 526.29 251.76 527.3 251.69 528.32 251.62 529.34 251.55" fill="none" stroke="#3c3cd8" stroke-width="1.2"/>
<path d="M326.8 406.35L529.34 389.89" stroke="#111" stroke-width="1.2" fill="none"/>
<circle cx="326.8" cy="406.7" r="2" fill="#111"/>
<circle cx="369.44" cy="401.45" r="2" fill="#111"/>
<circle cx="433.4" cy="398.12" r="2" fill="#111"/>
<circle cx="476.04" cy="394.97" r="2" fill="#111"/>
<circle cx="529.34" cy="389.72" r="2" fill="#111"/>
<circle cx="326.8" cy="406.7" r="2.1" fill="#1515ee"/>
<circle cx="369.44" cy="344.71" r="2.1" fill="#1515ee"/>
<circle cx="433.4" cy="274.5" r="2.1" fill="#1515ee"/>
<circle cx="476.04" cy="248.93" r="2.1" fill="#1515ee"/>
<circle cx="529.34" cy="256.99" r="2.1" fill="#1515ee"/>
<rect x="322.5" y="231.5" width="221.9" height="178.9" fill="none" stroke="#4a4a4a" stroke-width="1"/>
<path d="M326.8 410.4v4M369.44 410.4v4M412.08 410.4v4M454.72 410.4v4M497.36 410.4v4M540 410.4v4M348.12 410.4v2M390.76 410.4v2M433.4 410.4v2M476.04 410.4v2M518.68 410.4v2M322.5 406.7h-4M322.5 371.68h-4M322.5 336.66h-4M322.5 301.64h-4M322.5 266.62h-4M322.5 231.6h-4M322.5 389.19h-2M322.5 354.17h-2M322.5 319.15h-2M322.5 284.13h-2M322.5 249.11h-2" stroke="#4a4a4a" stroke-width="1" fill="none"/>
<text x="326.8" y="423.8" text-anchor="middle" class="tk">0</text>
<text x="369.44" y="423.8" text-anchor="middle" class="tk">20</text>
<text x="412.08" y="423.8" text-anchor="middle" class="tk">40</text>
<text x="454.72" y="423.8" text-anchor="middle" class="tk">60</text>
<text x="497.36" y="423.8" text-anchor="middle" class="tk">80</text>
<text x="540" y="423.8" text-anchor="middle" class="tk">100</text>
<text x="315.7" y="409.4" text-anchor="end" class="tk">0</text>
<text x="315.7" y="374.38" text-anchor="end" class="tk">20</text>
<text x="315.7" y="339.36" text-anchor="end" class="tk">40</text>
<text x="315.7" y="304.34" text-anchor="end" class="tk">60</text>
<text x="315.7" y="269.32" text-anchor="end" class="tk">80</text>
<text x="315.7" y="234.3" text-anchor="end" class="tk">100</text>
<text x="431.65" y="438.1" text-anchor="middle" class="at">RH (%)</text>
<text transform="translate(299 320.45) rotate(-90)" x="0" y="0" text-anchor="middle" class="at ay">Response (%)</text>
<path d="M52.5 238.8H73.8" stroke="#1a1a1a" stroke-width="1.6"/>
<path d="M52.5 252.3H73.8" stroke="#1212f0" stroke-width="1.6"/>
<text x="76" y="242.1" class="lg">V<tspan class="sb" dy="2.2">2</tspan><tspan dy="-2.2">CT</tspan><tspan class="sb" dy="2.2">x</tspan></text>
<text x="76" y="255.6" class="lg">V<tspan class="sb" dy="2.2">2</tspan><tspan dy="-2.2">CT</tspan><tspan class="sb" dy="2.2">x</tspan><tspan dy="-2.2">/V</tspan><tspan class="sb" dy="2.2">3</tspan><tspan dy="-2.2">O</tspan><tspan class="sb" dy="2.2">7</tspan></text>
<path d="M327.1 239.5H347.4" stroke="#222" stroke-width="1.3"/>
<path d="M327.1 252.7H347.4" stroke="#4848d0" stroke-width="1.3"/>
<text x="349.6" y="242.3" class="lg">V<tspan class="sb" dy="2.2">2</tspan><tspan dy="-2.2">CT</tspan><tspan class="sb" dy="2.2">x</tspan></text>
<text x="349.6" y="255.5" class="lg">V<tspan class="sb" dy="2.2">2</tspan><tspan dy="-2.2">CT</tspan><tspan class="sb" dy="2.2">x</tspan><tspan dy="-2.2">/V</tspan><tspan class="sb" dy="2.2">3</tspan><tspan dy="-2.2">O</tspan><tspan class="sb" dy="2.2">7</tspan></text>
<text x="4.5" y="25.1" class="pl">(a)</text>
<text x="275" y="25.1" class="pl">(b)</text>
<text x="3.7" y="246.7" class="pl">(c)</text>
<text x="276" y="245.6" class="pl">(d)</text>
</svg>
</body></html>
